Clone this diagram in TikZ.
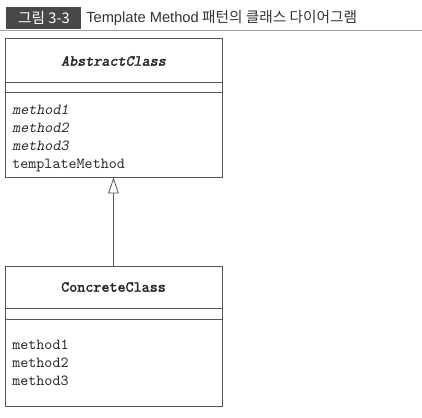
\documentclass[tikz,border=0pt]{standalone}
\usepackage{xcolor}
\usepackage{fontspec}
\usepackage{tikz}
\usetikzlibrary{arrows.meta}
\newfontfamily\krfont{Noto Sans CJK KR}
\newfontfamily\latfont{Liberation Sans}
\newfontfamily\clsfont{lmmono10-regular}[Extension=.otf, FakeBold=2]
\newfontfamily\clsslfont{lmmono10-regular}[Extension=.otf, FakeBold=2, FakeSlant=0.2]
\newfontfamily\opsfont{lmmono10-regular}[Extension=.otf]
\newfontfamily\opsslfont{lmmono10-regular}[Extension=.otf, FakeSlant=0.2]

\definecolor{umlline}{RGB}{85,85,85}
\definecolor{umltext}{RGB}{40,40,40}
\definecolor{capbox}{RGB}{72,72,72}
\definecolor{capline}{RGB}{160,160,160}

\tikzset{
  classbox/.style={draw=umlline, line width=0.6pt, minimum width=162.75pt, inner sep=0pt},
  classname/.style={text=umltext, font=\clsfont\fontsize{11.5}{13.5}\selectfont, inner sep=0.75pt},
  memberlist/.style={text=umltext, font=\opsfont\fontsize{11.5}{13.5}\selectfont, align=left, anchor=north west, inner sep=0.75pt},
  inherit/.style={draw=umlline, line width=0.6pt, -{Triangle[open, length=12pt, width=8pt]}}
}

\begin{document}
\begin{tikzpicture}[x=0.75pt,y=0.75pt,yscale=-1,xscale=1]
        \useasboundingbox (0,0) rectangle (422,418);
        % caption bar
        \fill [capbox] (6,7) rectangle (81,29);
        \draw [capline, line width=1pt] (0,30.5) -- (422,30.5);
        \node (capnum) [anchor=center, inner sep=0pt, text=white, font=\krfont\fontsize{11}{13}\selectfont] at (44,18) {그림 3-3};
        \node (captitle) [anchor=west, inner sep=0pt, text=black!80, font=\krfont\fontsize{11}{13}\selectfont] at (86,18) {{\latfont Template Method} 패턴의 클래스 다이어그램};

        % AbstractClass
        \node (abs) [classbox, minimum height=104.25pt] at (113.5,107.5) {};
        \draw [umlline, line width=0.6pt] (5,82) -- (222,82);
        \draw [umlline, line width=0.6pt] (5,92) -- (222,92);
        \node (absname) [classname] at (113.5,61) {\clsslfont AbstractClass};
        \node (absops) [memberlist] at (11,104) {\opsslfont method1\\ \opsslfont method2\\ \opsslfont method3\\ templateMethod};

        % ConcreteClass
        \node (con) [classbox, minimum height=105pt] at (113.5,336) {};
        \draw [umlline, line width=0.6pt] (5,308) -- (222,308);
        \draw [umlline, line width=0.6pt] (5,319) -- (222,319);
        \node (conname) [classname] at (113.5,287) {ConcreteClass};
        \node (conops) [memberlist] at (11,339) {method1\\ method2\\ method3};

        \draw [inherit] (con.north) -- (abs.south);
    \end{tikzpicture}
\end{document}
